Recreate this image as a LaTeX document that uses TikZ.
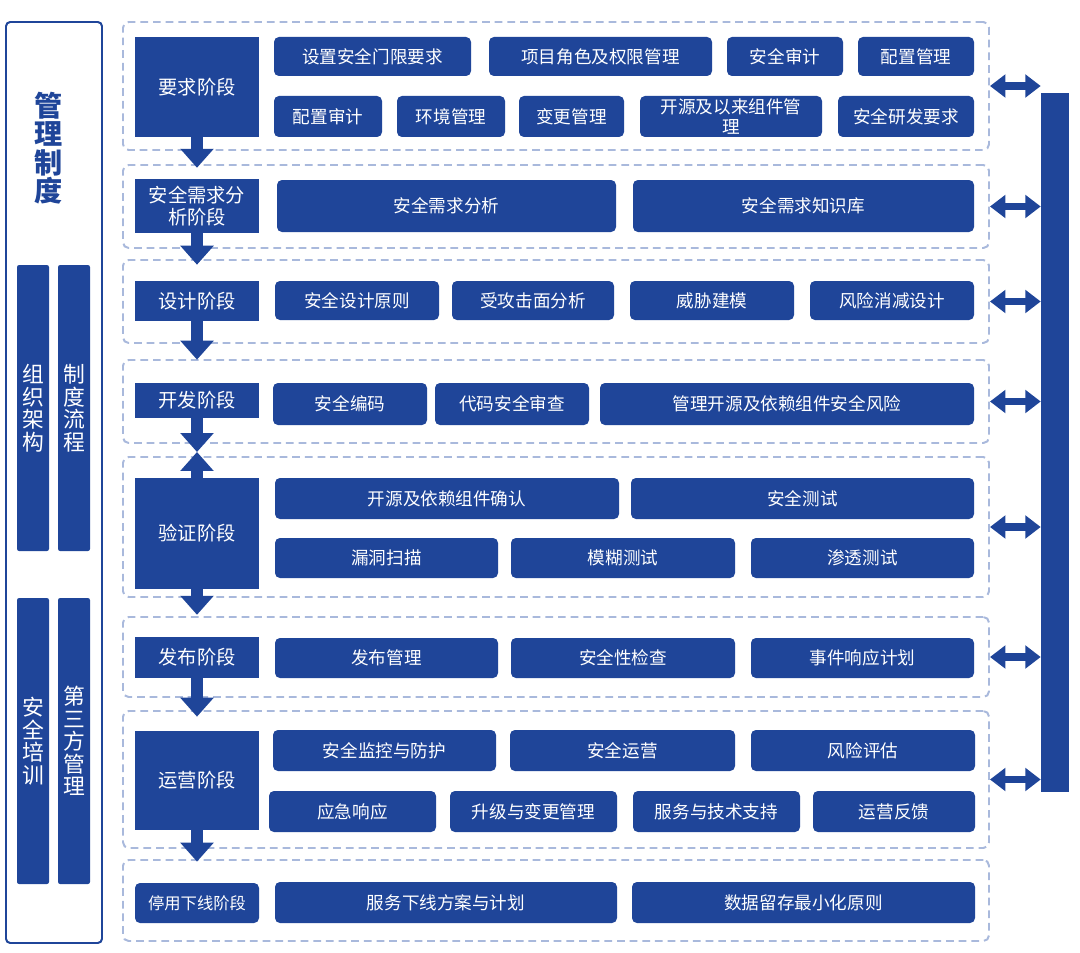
\documentclass[tikz,border=0pt]{standalone}
\usepackage{fontspec}
\newfontfamily\cjk{Noto Sans CJK SC}
\usetikzlibrary{arrows.meta,positioning}
\definecolor{dblue}{HTML}{1F4599}
\definecolor{dline}{HTML}{A9B9DC}
\tikzset{
	stage/.style={fill=dblue,text=white,inner sep=0pt,align=center,font=\cjk\fontsize{13.7}{15.4}\selectfont},
	item/.style={stage,rounded corners=3.5pt,font=\cjk\fontsize{12.5}{14}\selectfont},
	group/.style={draw=dline,line width=1.4pt,dash pattern=on 5.5pt off 3.5pt,rounded corners=4pt,fill=white},
	vbar/.style={fill=dblue,text=white,rounded corners=1.5pt,inner sep=0pt,align=center,font=\cjk\fontsize{15.5}{16}\selectfont},
	flow/.style={draw=dblue,line width=8.5pt,-{Triangle[width=23pt,length=13.5pt]}},
	link/.style={draw=dblue,line width=5pt,{Triangle[width=16pt,length=11pt]}-{Triangle[width=16pt,length=11pt]}}
}
% box from (x1,y1) to (x2,y2) in pixels
\newcommand\boxat[7]{\node[#1,minimum width={(#5-#3)*0.025cm},minimum height={(#6-#4)*0.025cm}] (#2) at ({(#3+#5)/2},{(#4+#6)/2}) {#7};}

\begin{document}
\begin{tikzpicture}[x=0.025cm,y=-0.025cm]
		\useasboundingbox (0,0) rectangle (1080,953);

		% left column
		\boxat{draw=dblue,line width=1.4pt,rounded corners=3pt,inner sep=0pt}{mgmt}{6}{22}{102}{943}{}
		\node[text=dblue,align=center,font=\cjk\bfseries\fontsize{20}{20.3}\selectfont] (title) at (49,148) {管\\理\\制\\度};
		\boxat{vbar}{org}{17}{265}{49}{551}{组\\织\\架\\构}
		\boxat{vbar}{proc}{58}{265}{90}{551}{制\\度\\流\\程}
		\boxat{vbar}{train}{17}{598}{49}{884}{安\\全\\培\\训}
		\boxat{vbar}{third}{58}{598}{90}{884}{第\\三\\方\\管\\理}

		% dashed groups
		\boxat{group}{ga}{123}{22}{989}{150}{}
		\boxat{group}{gb}{123}{165}{989}{248}{}
		\boxat{group}{gc}{123}{260}{989}{343}{}
		\boxat{group}{gd}{123}{360}{989}{443}{}
		\boxat{group}{ge}{123}{457}{989}{597}{}
		\boxat{group}{gf}{123}{617}{989}{697}{}
		\boxat{group}{gg}{123}{711}{989}{848}{}
		\boxat{group}{gh}{123}{860}{989}{941}{}

		% stages
		\boxat{stage}{req}{135}{37}{259}{137}{要求阶段}
		\boxat{stage}{ana}{135}{179}{259}{233}{安全需求分\\析阶段}
		\boxat{stage}{des}{135}{281}{259}{321}{设计阶段}
		\boxat{stage}{dev}{135}{383}{259}{418}{开发阶段}
		\boxat{stage}{ver}{135}{478}{259}{589}{验证阶段}
		\boxat{stage}{pub}{135}{637}{259}{678}{发布阶段}
		\boxat{stage}{ops}{135}{731}{259}{830}{运营阶段}
		\boxat{stage,rounded corners=3.5pt,font=\cjk\fontsize{11.6}{13}\selectfont}{ret}{135}{883}{259}{923}{停用下线阶段}

		% items
		\boxat{item}{reqa}{274}{37}{471}{76}{设置安全门限要求}
		\boxat{item}{reqb}{489}{37}{712}{76}{项目角色及权限管理}
		\boxat{item}{reqc}{727}{37}{843}{76}{安全审计}
		\boxat{item}{reqd}{858}{37}{974}{76}{配置管理}
		\boxat{item}{reqe}{274}{96}{382}{137}{配置审计}
		\boxat{item}{reqf}{397}{96}{505}{137}{环境管理}
		\boxat{item}{reqg}{519}{96}{624}{137}{变更管理}
		\boxat{item}{reqh}{640}{96}{822}{137}{开源及以来组件管\\理}
		\boxat{item}{reqi}{838}{96}{974}{137}{安全研发要求}

		\boxat{item}{anaa}{277}{180}{616}{232}{安全需求分析}
		\boxat{item}{anab}{633}{180}{974}{232}{安全需求知识库}

		\boxat{item}{desa}{275}{281}{439}{320}{安全设计原则}
		\boxat{item}{desb}{452}{281}{614}{320}{受攻击面分析}
		\boxat{item}{desc}{630}{281}{794}{320}{威胁建模}
		\boxat{item}{desd}{810}{281}{974}{320}{风险消减设计}

		\boxat{item}{deva}{273}{383}{427}{425}{安全编码}
		\boxat{item}{devb}{435}{383}{589}{425}{代码安全审查}
		\boxat{item}{devc}{600}{383}{974}{425}{管理开源及依赖组件安全风险}

		\boxat{item}{vera}{275}{478}{619}{519}{开源及依赖组件确认}
		\boxat{item}{verb}{631}{478}{974}{519}{安全测试}
		\boxat{item}{verc}{275}{538}{498}{578}{漏洞扫描}
		\boxat{item}{verd}{511}{538}{735}{578}{模糊测试}
		\boxat{item}{vere}{751}{538}{974}{578}{渗透测试}

		\boxat{item}{puba}{275}{638}{498}{678}{发布管理}
		\boxat{item}{pubb}{511}{638}{735}{678}{安全性检查}
		\boxat{item}{pubc}{751}{638}{974}{678}{事件响应计划}

		\boxat{item}{opsa}{273}{730}{496}{771}{安全监控与防护}
		\boxat{item}{opsb}{510}{730}{735}{771}{安全运营}
		\boxat{item}{opsc}{751}{730}{975}{771}{风险评估}
		\boxat{item}{opsd}{269}{791}{436}{832}{应急响应}
		\boxat{item}{opse}{450}{791}{617}{832}{升级与变更管理}
		\boxat{item}{opsf}{633}{791}{800}{832}{服务与技术支持}
		\boxat{item}{opsg}{813}{791}{975}{832}{运营反馈}

		\boxat{item}{reta}{275}{882}{617}{923}{服务下线方案与计划}
		\boxat{item}{retb}{632}{882}{975}{923}{数据留存最小化原则}

		% right bar
		\boxat{fill=dblue,inner sep=0pt}{bar}{1041}{93}{1069}{792}{}

		% flow between stages
		\coordinate (meet) at (197,452);
		\draw[flow,shorten >=7.8pt] (req.south) -- (ana.north);
		\draw[flow,shorten >=11.4pt] (ana.south) -- (des.north);
		\draw[flow,shorten >=16.4pt] (des.south) -- (dev.north);
		\draw[flow] (dev.south) -- (meet);
		\draw[flow] (ver.north) -- (meet);
		\draw[flow,shorten >=15.6pt] (ver.south) -- (pub.north);
		\draw[flow,shorten >=10pt] (pub.south) -- (ops.north);
		\draw[flow,shorten >=15pt] (ops.south) -- (ret.north);

		% links to the bar
		\foreach \g in {ga,gb,gc,gd,ge,gf,gg}
			\draw[link] (\g.east) -- (\g.east -| bar.west);
	\end{tikzpicture}
\end{document}
